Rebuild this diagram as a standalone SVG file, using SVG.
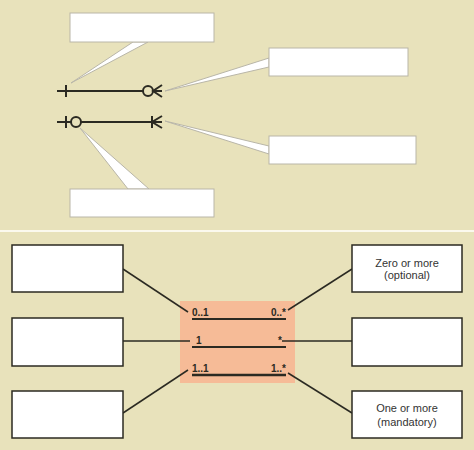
<svg xmlns="http://www.w3.org/2000/svg" width="474" height="450" viewBox="0 0 474 450">
<style>
.bg{fill:#E8E2BB}
.tb{fill:#fff;stroke:#b9b6a8;stroke-width:1}
.call{fill:#fff;stroke:#b9b6a8;stroke-width:1;stroke-linejoin:miter}
.er{stroke:#2b2a22;stroke-width:2;fill:none}
.bb{fill:#fff;stroke:#2b2a22;stroke-width:1.5}
.con{stroke:#2b2a22;stroke-width:1.5;fill:none}
.ml{stroke:#2b2a22;stroke-width:2}
.lab{font-family:"Liberation Sans",Arial,sans-serif;font-size:10px;font-weight:bold;fill:#2b2a22}
.txt{font-family:"Liberation Sans",Arial,sans-serif;font-size:11px;fill:#333;text-anchor:middle}
</style>
<rect class="bg" x="0" y="0" width="474" height="230"/>
<rect fill="#fbf9ee" x="0" y="230" width="474" height="2"/>
<rect class="bg" x="0" y="232" width="474" height="218"/>

<g id="top-callouts">
  <polygon class="call" points="133,42 148,42 71,83"/>
  <polygon class="call" points="269,58 269,67 165,91"/>
  <polygon class="call" points="269,146 269,154 165,121"/>
  <polygon class="call" points="128,189 149,189 80,128"/>
</g>
<g id="top-box-1"><rect class="tb" x="70" y="13" width="144" height="29"/></g>
<g id="top-box-2"><rect class="tb" x="269" y="48" width="139" height="28"/></g>
<g id="top-box-3"><rect class="tb" x="269" y="136" width="147" height="28"/></g>
<g id="top-box-4"><rect class="tb" x="70" y="189" width="144" height="28"/></g>

<g id="er-lines">
  <line class="er" x1="57" y1="91" x2="143" y2="91"/>
  <line class="er" x1="66" y1="85" x2="66" y2="97"/>
  <circle class="er" cx="148" cy="91" r="5"/>
  <path class="er" d="M162,85 L153,91 L162,97 M153,91 L162,91"/>
  <line class="er" x1="57" y1="122" x2="71" y2="122"/>
  <line class="er" x1="66" y1="116" x2="66" y2="128"/>
  <circle class="er" cx="76" cy="122" r="5"/>
  <line class="er" x1="81" y1="122" x2="162" y2="122"/>
  <line class="er" x1="152" y1="116" x2="152" y2="128"/>
  <path class="er" d="M162,116 L152,122 L162,128"/>
</g>

<g id="multiplicity">
  <rect fill="#F6BB97" x="180" y="301" width="115" height="82"/>
  <line class="ml" x1="192" y1="319" x2="286" y2="319"/>
  <line class="ml" x1="192" y1="347" x2="286" y2="347"/>
  <line class="ml" x1="192" y1="375" x2="286" y2="375" style="stroke-width:2.5"/>
  <text class="lab" x="192" y="316">0..1</text>
  <text class="lab" x="286" y="316" text-anchor="end">0..*</text>
  <text class="lab" x="196" y="344">1</text>
  <text class="lab" x="282" y="344" text-anchor="end">*</text>
  <text class="lab" x="192" y="372">1..1</text>
  <text class="lab" x="286" y="372" text-anchor="end">1..*</text>
</g>

<g id="connectors">
  <line class="con" x1="123" y1="269" x2="188" y2="312"/>
  <line class="con" x1="123" y1="341" x2="190" y2="341"/>
  <line class="con" x1="123" y1="413" x2="188" y2="370"/>
  <line class="con" x1="288" y1="310" x2="352" y2="269"/>
  <line class="con" x1="282" y1="341" x2="352" y2="341"/>
  <line class="con" x1="288" y1="373" x2="352" y2="413"/>
</g>

<g id="left-box-1"><rect class="bb" x="12" y="245" width="111" height="47"/></g>
<g id="left-box-2"><rect class="bb" x="12" y="318" width="111" height="48"/></g>
<g id="left-box-3"><rect class="bb" x="12" y="391" width="111" height="47"/></g>
<g id="right-box-1"><rect class="bb" x="352" y="245" width="110" height="47"/>
  <text class="txt" x="407" y="267">Zero or more</text>
  <text class="txt" x="407" y="279">(optional)</text></g>
<g id="right-box-2"><rect class="bb" x="352" y="318" width="110" height="48"/></g>
<g id="right-box-3"><rect class="bb" x="352" y="391" width="110" height="47"/>
  <text class="txt" x="407" y="412">One or more</text>
  <text class="txt" x="407" y="426">(mandatory)</text></g>
</svg>
